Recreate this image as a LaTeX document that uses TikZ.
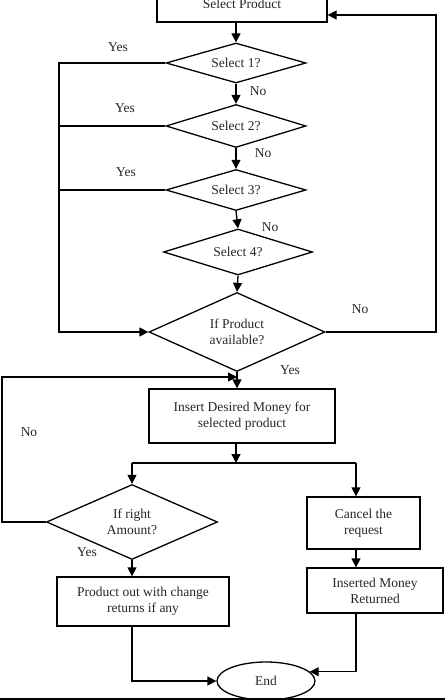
\documentclass[tikz,border=0pt]{standalone}
\usepackage{fontspec}
\setmainfont{Liberation Serif}
\usetikzlibrary{shapes.geometric,arrows.meta}

\tikzset{every picture/.style={line width=1.3pt}}
\tikzset{
  procbox/.style={draw, rectangle, align=center, inner sep=2pt},
  decision/.style={draw, diamond, aspect=2.3, align=center, inner sep=0pt},
  endnode/.style={draw, ellipse, inner sep=0pt},
  arr/.style={-{Triangle[length=9pt,width=9pt]}},
  lbl/.style={inner sep=1pt}
}

\begin{document}
\begin{tikzpicture}[x=1pt,y=1pt,yscale=-1,xscale=1,
  every node/.style={font=\fontsize{13.5}{16}\selectfont, text=black!85}]
	\useasboundingbox (0,0) rectangle (445,700);

	%Shape: Rectangle [id:prod]
	\node[procbox, minimum width=170, minimum height=36] (prod) at (242,4) {Select Product};
	%Shape: Diamond [id:s1]
	\node[decision, minimum width=140, minimum height=40] (s1) at (236,63) {Select 1?};
	%Shape: Diamond [id:s2]
	\node[decision, minimum width=140, minimum height=43] (s2) at (236,126) {Select 2?};
	%Shape: Diamond [id:s3]
	\node[decision, minimum width=140, minimum height=41] (s3) at (236,190) {Select 3?};
	%Shape: Diamond [id:s4]
	\node[decision, minimum width=149, minimum height=46] (s4) at (238,252) {Select 4?};
	%Shape: Diamond [id:avail]
	\node[decision, minimum width=176, minimum height=79] (avail) at (237,332) {If Product\\available?};
	%Shape: Rectangle [id:insert]
	\node[procbox, minimum width=186, minimum height=54] (insert) at (242,416) {Insert Desired Money for\\selected product};
	%Shape: Diamond [id:amount]
	\node[decision, minimum width=171, minimum height=75] (amount) at (132,522) {If right\\Amount?};
	%Shape: Rectangle [id:cancel]
	\node[procbox, minimum width=113, minimum height=52] (cancel) at (363.5,523) {Cancel the\\request};
	%Shape: Rectangle [id:ret]
	\node[procbox, minimum width=136, minimum height=45] (ret) at (375,590.5) {Inserted Money\\Returned};
	%Shape: Rectangle [id:out]
	\node[procbox, minimum width=172, minimum height=49] (out) at (143,601.5) {Product out with change\\returns if any};
	%Shape: Ellipse [id:end]
	\node[endnode, minimum width=98, minimum height=38] (end) at (266,681) {End};

	\coordinate (yesl) at (59,63);
	\coordinate (noback) at (436,15);
	\coordinate (noleft) at (2,377);
	\coordinate (split) at (236,463);
	\coordinate (lc) at (132,0);
	\coordinate (rc) at (356,0);

	%Straight Lines
	\draw[arr] (prod.south -| s1.north) -- (s1.north);
	\draw[arr] (s1.south) -- (s2.north);
	\draw[arr] (s2.south) -- (s3.north);
	\draw[arr] (s3.south) -- (s4.north);
	\draw[arr] (s4.south) -- (avail.north);
	%Yes branch
	\draw[arr] (s1.west) -- (yesl) |- (avail.west);
	\draw (s2.west) -- (s2.west -| yesl);
	\draw (s3.west) -- (s3.west -| yesl);
	%No branch back to start
	\draw[arr] (avail.east) -| (noback) -- (prod.east |- noback);
	\draw[arr] (avail.south) -- (avail.south |- insert.north);
	%No branch of amount
	\draw[arr] (amount.west) -| (noleft) -- (noleft -| avail.south);
	%Split
	\draw[arr] (insert.south -| split) -- (split);
	\draw (lc |- split) -- (rc |- split);
	\draw[arr] (lc |- split) -- (amount.north);
	\draw[arr] (rc |- split) -- (rc |- cancel.north);
	\draw[arr] (rc |- cancel.south) -- (rc |- ret.north);
	\draw[arr] (amount.south) -- (amount.south |- out.north);
	\draw[arr] (lc |- out.south) |- (end.west);
	\draw[arr] (rc |- ret.south) |- (end.12);

	% Text Node
	\node[lbl] (yes1) at (118,47) {Yes};
	\node[lbl] (yes2) at (125,108) {Yes};
	\node[lbl] (yes3) at (126,172) {Yes};
	\node[lbl] (no1) at (258,91) {No};
	\node[lbl] (no2) at (263,153) {No};
	\node[lbl] (no3) at (270,227) {No};
	\node[lbl] (no4) at (360,309) {No};
	\node[lbl] (yes4) at (290,370) {Yes};
	\node[lbl] (no5) at (29,432) {No};
	\node[lbl] (yes5) at (87,552) {Yes};

	%Bottom edge
	\fill (0,697.5) rectangle (445,700);
\end{tikzpicture}
\end{document}
